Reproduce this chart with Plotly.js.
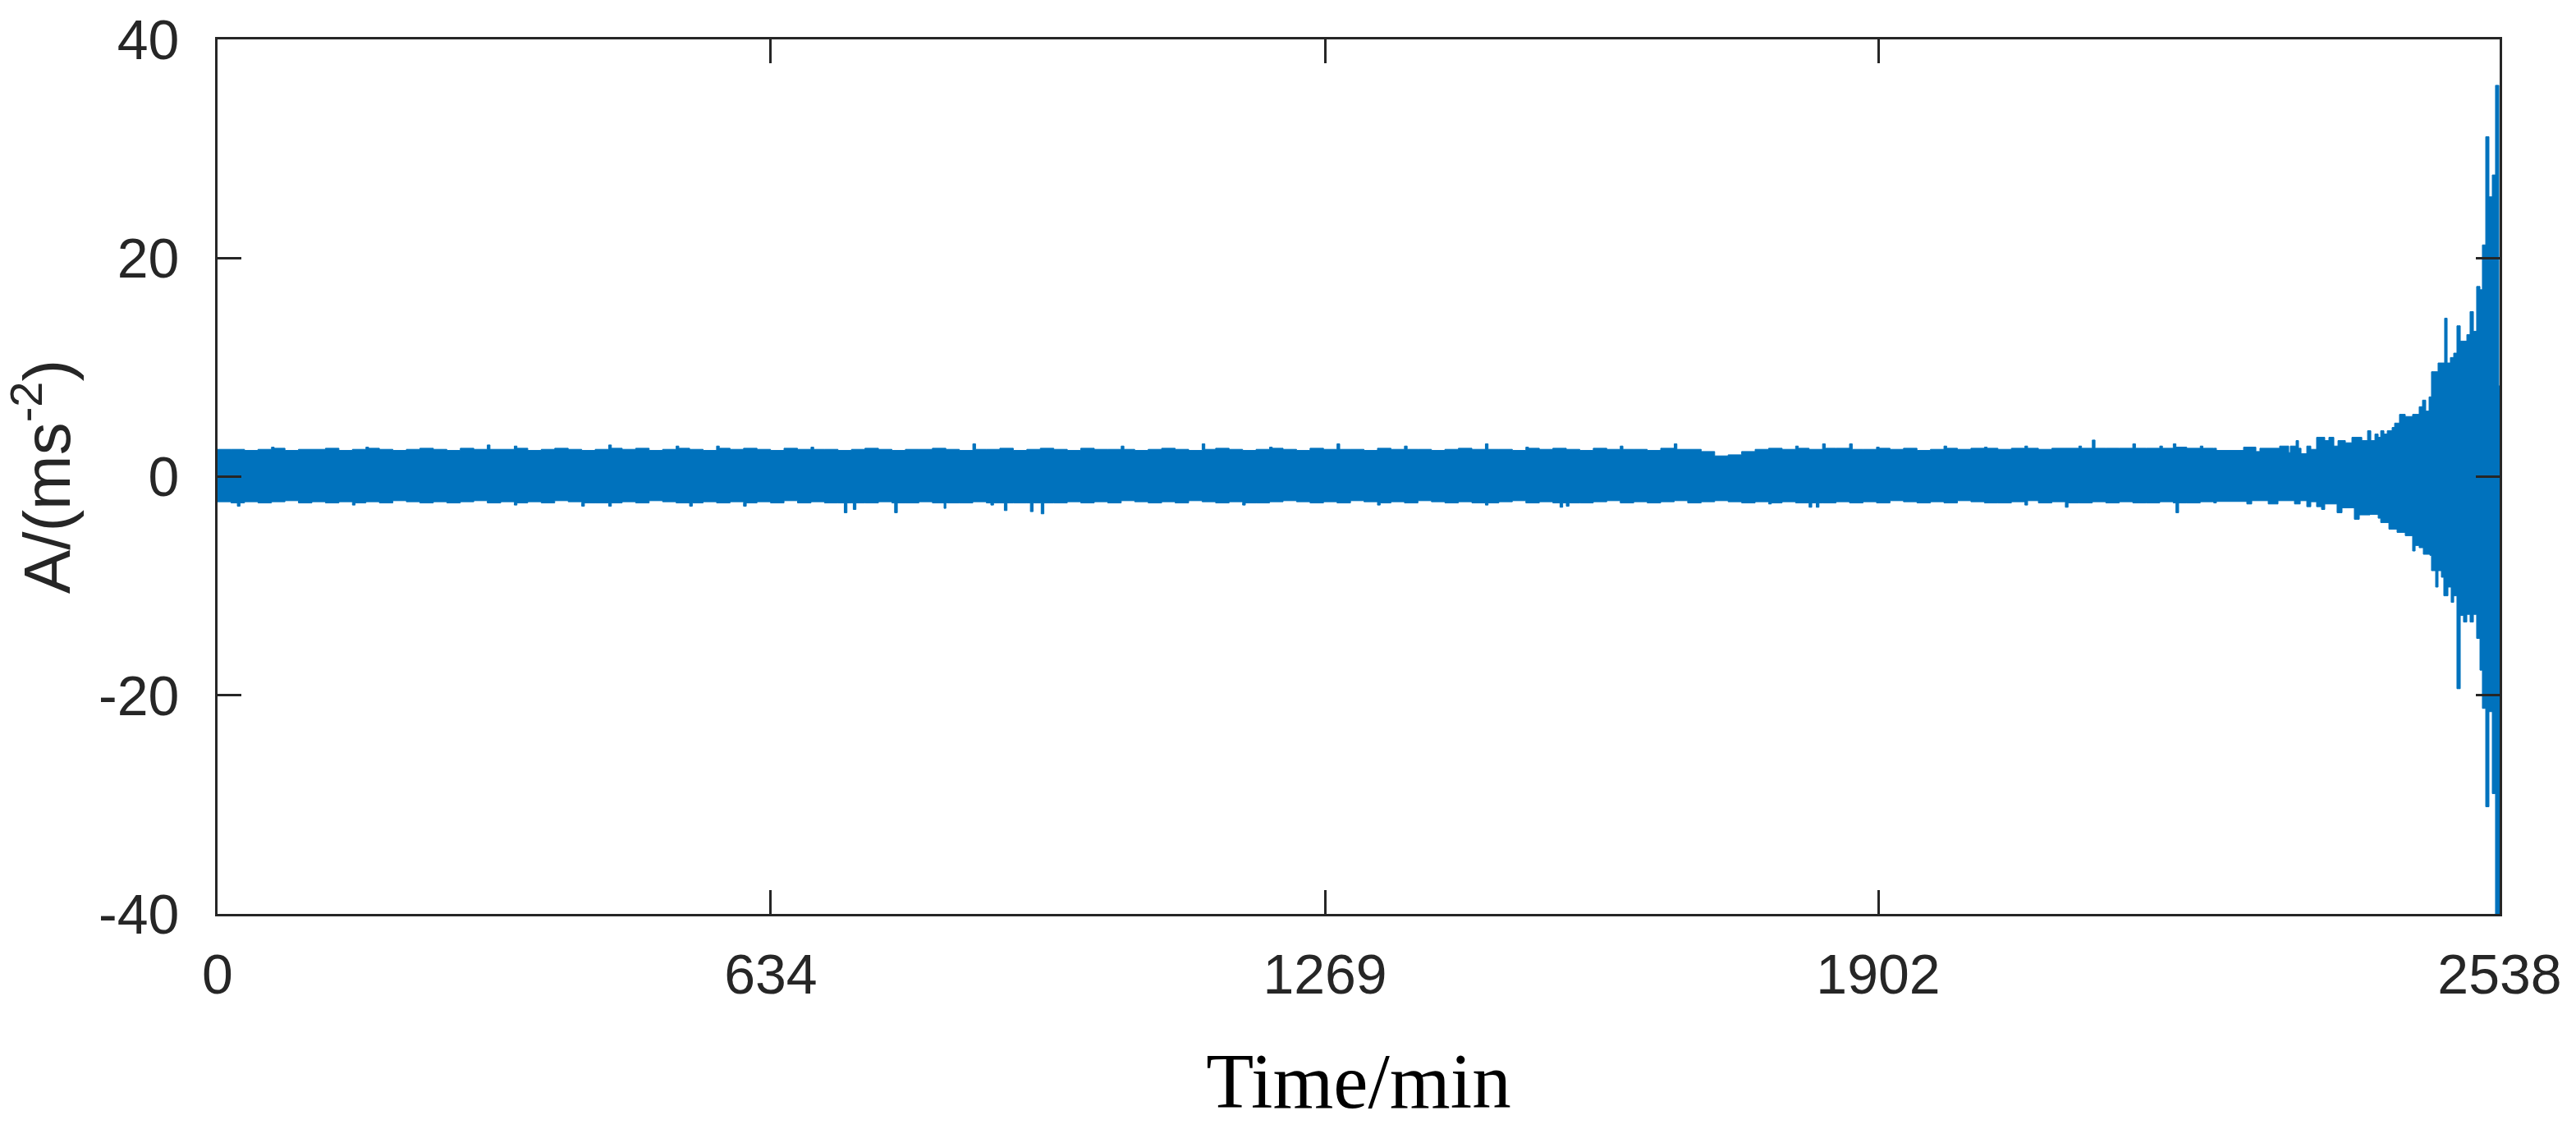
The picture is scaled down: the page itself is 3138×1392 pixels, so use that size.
<!DOCTYPE html>
<html>
<head>
<meta charset="utf-8">
<script src="https://cdn.plot.ly/plotly-3.0.1.min.js"></script>
<style>html,body{margin:0;padding:0;background:#fff;}#chart{width:3138px;height:1392px;}</style>
</head>
<body>
<div id="chart"></div>
<script>
// ---- Data ----
// Steady part: base envelope of the vibration signal, one value every 15 min from t = 0 to 2220 min
const STEADY_STEP_MIN = 15;
const STEADY_UPPER = [
  2.5,2.5,2.4,2.5,2.6,2.4,2.5,2.5,2.6,2.4,2.5,2.6,2.5,2.4,2.5,2.6,2.5,2.4,2.6,2.5,
  2.5,2.5,2.6,2.4,2.5,2.6,2.5,2.4,2.5,2.6,2.5,2.6,2.4,2.5,2.6,2.5,2.4,2.6,2.5,2.6,
  2.5,2.4,2.6,2.5,2.5,2.5,2.4,2.5,2.6,2.5,2.4,2.5,2.5,2.6,2.5,2.4,2.5,2.5,2.6,2.4,
  2.5,2.6,2.5,2.4,2.6,2.5,2.5,2.5,2.4,2.5,2.6,2.5,2.4,2.5,2.6,2.5,2.4,2.5,2.6,2.5,
  2.4,2.6,2.5,2.5,2.5,2.4,2.6,2.5,2.5,2.5,2.4,2.5,2.6,2.5,2.5,2.5,2.4,2.6,2.5,2.6,
  2.5,2.4,2.6,2.5,2.5,2.5,2.4,2.6,2.5,2.5,2.3,1.9,2.0,2.3,2.5,2.6,2.5,2.6,2.5,2.6,
  2.6,2.5,2.5,2.6,2.5,2.6,2.4,2.5,2.6,2.5,2.6,2.6,2.5,2.6,2.6,2.5,2.6,2.6,2.6,2.6,
  2.6,2.6,2.6,2.6,2.6,2.7,2.6,2.6,2.6
];
const STEADY_LOWER = [
  -2.3,-2.4,-2.3,-2.4,-2.3,-2.2,-2.4,-2.3,-2.4,-2.3,-2.4,-2.3,-2.4,-2.2,-2.3,-2.4,-2.3,-2.4,-2.3,-2.2,
  -2.4,-2.3,-2.4,-2.3,-2.4,-2.2,-2.3,-2.4,-2.4,-2.4,-2.3,-2.4,-2.2,-2.3,-2.4,-2.4,-2.3,-2.4,-2.3,-2.4,
  -2.3,-2.4,-2.2,-2.4,-2.3,-2.4,-2.4,-2.4,-2.4,-2.3,-2.4,-2.4,-2.3,-2.4,-2.4,-2.4,-2.3,-2.4,-2.4,-2.4,
  -2.4,-2.4,-2.4,-2.3,-2.4,-2.3,-2.4,-2.2,-2.3,-2.4,-2.3,-2.4,-2.2,-2.3,-2.4,-2.3,-2.4,-2.4,-2.3,-2.2,
  -2.3,-2.4,-2.3,-2.4,-2.2,-2.3,-2.4,-2.3,-2.4,-2.2,-2.3,-2.4,-2.3,-2.4,-2.4,-2.3,-2.2,-2.4,-2.3,-2.4,
  -2.4,-2.4,-2.3,-2.2,-2.4,-2.3,-2.4,-2.3,-2.2,-2.4,-2.3,-2.2,-2.3,-2.4,-2.3,-2.4,-2.3,-2.4,-2.4,-2.4,
  -2.3,-2.4,-2.3,-2.4,-2.2,-2.3,-2.4,-2.3,-2.4,-2.2,-2.3,-2.4,-2.4,-2.3,-2.2,-2.4,-2.3,-2.4,-2.4,-2.3,
  -2.4,-2.3,-2.4,-2.4,-2.3,-2.4,-2.4,-2.3,-2.4
];
// Narrow spikes on the steady band: [time (min), amplitude]
const UPPER_SPIKES = [[60,2.7],[165,2.7],[300,2.9],[330,2.8],[435,2.9],[510,2.8],[555,2.8],[660,2.7],[840,3.0],[1005,2.8],[1095,3.0],[1170,2.7],[1245,3.0],[1320,2.8],[1410,3.0],[1455,2.7],[1560,2.8],[1620,3.0],[1755,2.8],[1785,3.0],[1815,3.0],[1845,2.7],[1920,2.8],[1965,2.7],[2010,2.8],[2070,2.8],[2085,3.35],[2130,3.0],[2160,2.8],[2175,3.0],[2205,2.8]];
const LOWER_SPIKES = [[22,-2.7],[150,-2.6],[330,-2.6],[405,-2.7],[435,-2.7],[525,-2.7],[585,-2.7],[697,-3.3],[707,-3.0],[753,-3.3],[808,-2.9],[860,-2.6],[875,-3.1],[904,-3.2],[916,-3.4],[1140,-2.6],[1290,-2.6],[1410,-2.6],[1493,-2.8],[1500,-2.7],[1725,-2.5],[1770,-2.8],[1778,-2.8],[2010,-2.6],[2055,-2.8],[2178,-3.3]];
const SPIKE_WIDTH_MIN = 3;

// Degradation part: upper envelope breakpoints (min) and values
const GROWTH_T_UP = [2223.0,2253.2,2266.9,2271.4,2293.3,2303.4,2305.2,2311.6,2314.3,2317.1,2323.5,2328.0,2334.4,2343.5,2348.1,2353.6,2358.2,2366.4,2373.7,2384.7,2391.1,2394.7,2399.3,2402.9,2405.7,2409.3,2413.0,2418.4,2421.2,2426.6,2433.0,2441.2,2448.5,2452.2,2455.8,2459.5,2462.2,2469.5,2476.8,2479.6,2483.2,2486.9,2490.5,2494.2,2501.5,2505.1,2508.8,2512.4,2516.1,2518.8,2522.5,2526.1,2529.8,2533.4,2537.1,2538.0];
const GROWTH_UP   = [2.4,2.7,2.3,2.6,2.8,2.2,2.8,3.3,2.6,2.1,2.8,2.5,3.6,3.3,3.6,2.8,3.3,3.1,3.6,3.3,4.2,3.3,3.9,3.6,4.2,3.9,4.2,4.5,4.9,5.7,5.5,5.7,6.4,7.0,6.0,7.3,9.6,10.4,14.5,10.4,10.9,11.3,13.8,12.4,13.0,15.1,13.3,17.4,17.1,21.2,31.1,25.6,27.6,35.8,8.3,8.3];
// Degradation part: lower envelope breakpoints (min) and values
const GROWTH_T_LO = [2223.0,2256.8,2262.3,2280.6,2291.5,2309.8,2316.2,2323.5,2328.0,2334.4,2339.9,2343.5,2357.2,2362.7,2376.4,2381.9,2393.8,2402.9,2405.7,2414.8,2423.9,2433.0,2441.2,2444.0,2448.5,2453.1,2460.4,2462.2,2466.8,2469.5,2473.2,2475.9,2480.5,2484.1,2486.9,2490.5,2494.2,2497.8,2501.5,2505.1,2508.8,2512.4,2516.1,2518.8,2522.5,2526.1,2529.8,2533.4,2538.0];
const GROWTH_LO   = [-2.27,-2.5,-2.2,-2.5,-2.2,-2.5,-2.2,-2.75,-2.3,-2.75,-3.0,-2.5,-3.3,-2.85,-3.9,-3.5,-3.45,-3.8,-4.2,-4.8,-5.1,-5.4,-6.8,-6.3,-6.5,-7.1,-7.2,-8.6,-10.1,-8.6,-9.2,-10.9,-10.1,-11.5,-10.9,-19.4,-12.7,-13.3,-12.6,-13.3,-12.6,-14.8,-17.7,-21.2,-30.2,-21.5,-29.0,-40.5,-40.5];

// Axis ticks
const X_TICK_POS  = [0, 615.3, 1231.6, 1846.9, 2538];
const X_TICK_TEXT = ['0', '634', '1269', '1902', '2538'];
const Y_TICK_POS  = [-40, -20, 0, 20, 40];
const Y_TICK_TEXT = ['-40', '-20', '0', '20', '40'];

// ---- Build envelope paths ----
function envelope(gridV, spikes, growthT, growthV) {
  const gridT = gridV.map((_, i) => i * STEADY_STEP_MIN);
  const valueAt = t => { let v = gridV[0]; for (let i = 0; i < gridT.length; i++) { if (gridT[i] <= t) v = gridV[i]; } return v; };
  const pts = gridT.map((t, i) => [t, gridV[i]]);
  spikes.forEach(([ts, v]) => { pts.push([ts, v]); pts.push([ts + SPIKE_WIDTH_MIN, valueAt(ts + SPIKE_WIDTH_MIN)]); });
  pts.sort((a, b) => a[0] - b[0]);
  growthT.forEach((t, i) => pts.push([t, growthV[i]]));
  return {x: pts.map(p => p[0]), y: pts.map(p => p[1])};
}
const up = envelope(STEADY_UPPER, UPPER_SPIKES, GROWTH_T_UP, GROWTH_UP);
const lo = envelope(STEADY_LOWER, LOWER_SPIKES, GROWTH_T_LO, GROWTH_LO);

const BLUE = '#0072BD';
const AX = '#262626';

const traces = [
  {x: lo.x, y: lo.y, type: 'scatter', mode: 'lines', line: {color: BLUE, width: 1, shape: 'hv'}, hoverinfo: 'skip', showlegend: false},
  {x: up.x, y: up.y, type: 'scatter', mode: 'lines', line: {color: BLUE, width: 1, shape: 'hv'}, fill: 'tonexty', fillcolor: BLUE, hoverinfo: 'skip', showlegend: false}
];

const tickFont = {family: '"Liberation Sans", Arial, sans-serif', size: 68, color: AX};

const layout = {
  width: 3138, height: 1392,
  paper_bgcolor: '#ffffff', plot_bgcolor: '#ffffff',
  margin: {l: 265, r: 93, t: 48, b: 279, autoexpand: false},
  showlegend: false,
  xaxis: {
    range: [0, 2538], tickmode: 'array', tickvals: X_TICK_POS, ticktext: X_TICK_TEXT,
    ticks: 'inside', ticklen: 29, tickwidth: 3, tickcolor: AX,
    showline: true, linewidth: 3, linecolor: AX, mirror: 'ticks',
    showgrid: false, zeroline: false, tickfont: tickFont, ticklabelstandoff: 12,
    title: {text: 'Time/min', font: {family: '"Liberation Serif", "Times New Roman", serif', size: 95, color: '#000'}, standoff: 60},
    automargin: false
  },
  yaxis: {
    range: [-40, 40], tickmode: 'array', tickvals: Y_TICK_POS, ticktext: Y_TICK_TEXT,
    ticks: 'inside', ticklen: 29, tickwidth: 3, tickcolor: AX,
    showline: true, linewidth: 3, linecolor: AX, mirror: 'ticks',
    showgrid: false, zeroline: false, tickfont: tickFont, ticklabelstandoff: 30,
    title: {text: 'A/(ms<sup>-2</sup>)', font: {family: '"Liberation Sans", Arial, sans-serif', size: 80, color: AX}, standoff: 40},
    automargin: false
  }
};

Plotly.newPlot('chart', traces, layout, {staticPlot: true, displayModeBar: false});
</script>
</body>
</html>
